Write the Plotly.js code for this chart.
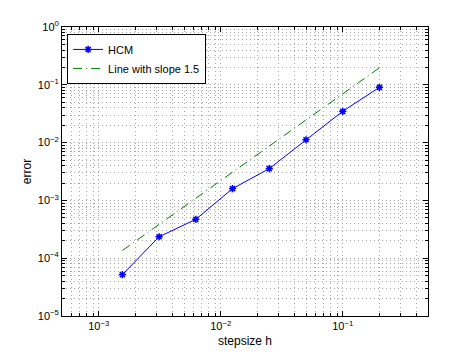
<!DOCTYPE html>
<html>
<head>
<meta charset="utf-8">
<script src="https://cdn.plot.ly/plotly-3.0.1.min.js"></script>
<style>html,body{margin:0;padding:0;background:#fff;}#chart{width:474px;height:355px;}</style>
</head>
<body>
<div id="chart"></div>
<script>
// Data
const stepsizes = [0.0015625, 0.003125, 0.00625, 0.0125, 0.025, 0.05, 0.1, 0.2];
const hcmError = [5.2e-5, 2.35e-4, 4.7e-4, 1.6e-3, 3.55e-3, 1.12e-2, 3.48e-2, 9.05e-2];
const slopeX = [0.0015625, 0.2];
const slopeY = [1.36e-4, 0.197];
const seriesNames = ["HCM", "Line with slope 1.5"];
const xTickVals = [1e-3, 1e-2, 1e-1];
const xTickText = ["10<sup>−3</sup>", "10<sup>−2</sup>", "10<sup>−1</sup>"];
const yTickVals = [1e-5, 1e-4, 1e-3, 1e-2, 1e-1, 1];
const yTickText = ["10<sup>−5</sup>", "10<sup>−4</sup>", "10<sup>−3</sup>", "10<sup>−2</sup>", "10<sup>−1</sup>", "10<sup>0</sup>"];

const gridCol = '#a8a8a8';
const gridDash = '1px,3px';
const axisCommon = {
  type: 'log',
  showline: true, linecolor: '#000', linewidth: 1, mirror: 'allticks',
  ticks: 'inside', ticklen: 5, tickcolor: '#000',
  showgrid: true, gridcolor: gridCol, griddash: gridDash, gridwidth: 1,
  zeroline: false,
  tickmode: 'array',
  tickfont: {family: 'Liberation Sans, Arial, sans-serif', size: 11, color: '#000'},
  minor: {ticks: 'inside', ticklen: 3, tickcolor: '#000', showgrid: true, gridcolor: gridCol, griddash: gridDash, gridwidth: 1, dtick: 'D1'}
};

const traces = [
  {x: stepsizes, y: hcmError, name: seriesNames[0], type: 'scatter', mode: 'lines+markers',
   line: {color: '#0000ff', width: 1},
   marker: {symbol: 'asterisk-open', size: 6, color: '#0000ff', line: {color: '#0000ff', width: 1.5}}},
  {x: slopeX, y: slopeY, name: seriesNames[1], type: 'scatter', mode: 'lines',
   line: {color: '#008000', width: 1, dash: '9px,4px,1px,4px'}}
];

const layout = {
  width: 474, height: 355,
  margin: {l: 62, r: 46, t: 27, b: 39},
  paper_bgcolor: '#fff', plot_bgcolor: '#fff',
  font: {family: 'Liberation Sans, Arial, sans-serif', size: 11, color: '#000'},
  showlegend: true,
  legend: {x: 0.014, y: 0.976, xanchor: 'left', yanchor: 'top', bgcolor: '#fff',
           bordercolor: '#000', borderwidth: 1, font: {size: 11}, tracegroupgap: 0},
  xaxis: Object.assign({}, axisCommon, {
    range: [Math.log10(5e-4), Math.log10(0.5)],
    tickvals: xTickVals, ticktext: xTickText,
    title: {text: 'stepsize h', font: {size: 12}, standoff: 5}
  }),
  yaxis: Object.assign({}, axisCommon, {
    range: [-5, 0],
    tickvals: yTickVals, ticktext: yTickText,
    title: {text: 'error', font: {size: 12}, standoff: 3}
  })
};

Plotly.newPlot('chart', traces, layout, {displayModeBar: false, staticPlot: true});
</script>
</body>
</html>
